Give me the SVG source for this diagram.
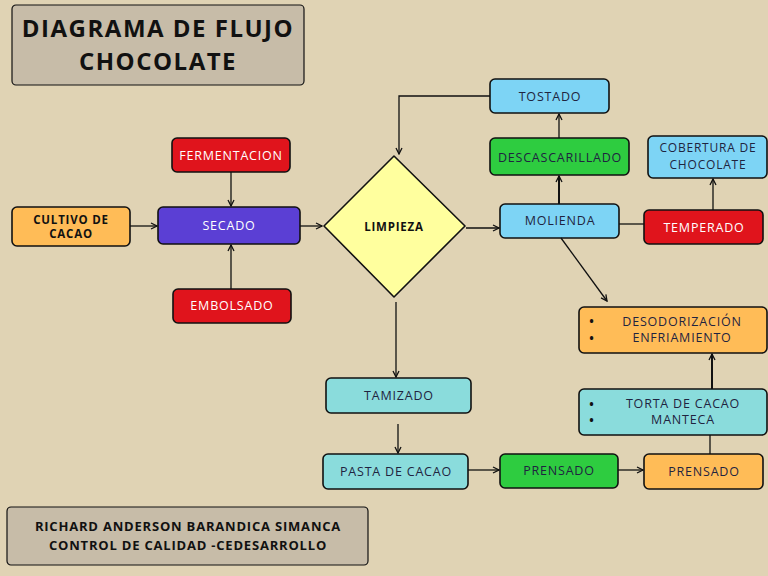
<svg xmlns="http://www.w3.org/2000/svg" width="768" height="576" viewBox="0 0 768 576">
<style>
.b{stroke:#111;stroke-width:1.6}
.t{font-family:"Open Sans","DejaVu Sans",sans-serif;font-size:12.5px;letter-spacing:0.8px;fill:#1f2440;text-anchor:middle;dominant-baseline:central}
.w{fill:#fff}
.k{font-weight:bold;fill:#111}
.d{font-size:12px;font-weight:bold;fill:#111}
.c{stroke:#111;stroke-width:1.3;fill:none;marker-end:url(#a)}
.n{stroke:#111;stroke-width:1.3;fill:none}
</style>
<defs><marker id="a" markerWidth="8" markerHeight="8" refX="7" refY="4" orient="auto" markerUnits="userSpaceOnUse"><path d="M1,1 L7,4 L1,7" fill="none" stroke="#111" stroke-width="1.3"/></marker></defs>
<rect width="768" height="576" fill="#e0d3b4"/>
<g id="title"><rect x="12" y="5" width="292" height="80" rx="4" fill="#c7bca8" stroke="#111" stroke-width="1.2"/>
<text class="t k" x="158" y="27" style="font-size:24px;letter-spacing:1.5px">DIAGRAMA DE FLUJO</text>
<text class="t k" x="158" y="60" style="font-size:24px;letter-spacing:1.5px">CHOCOLATE</text></g>
<g id="cultivo"><rect class="b" x="12" y="207" width="118" height="39" rx="5" fill="#ffbc57"/><text class="t k" x="71" y="219" style="font-size:11.5px">CULTIVO DE</text><text class="t k" x="71" y="233" style="font-size:11.5px">CACAO</text></g>
<g id="secado"><rect class="b" x="158" y="207" width="142" height="37" rx="5" fill="#5b3fd4"/><text class="t w" x="229" y="225">SECADO</text></g>
<g id="fermentacion"><rect class="b" x="172" y="138" width="118" height="34" rx="5" fill="#e0141c"/><text class="t w" x="231" y="155">FERMENTACION</text></g>
<g id="embolsado"><rect class="b" x="173" y="289" width="118" height="34" rx="5" fill="#e0141c"/><text class="t w" x="232" y="305">EMBOLSADO</text></g>
<g id="limpieza"><path d="M394,156 L465,226 L394,297 L324,226 Z" fill="#ffff9e" stroke="#111" stroke-width="1.6" stroke-linejoin="round"/><text class="t k" x="394" y="226" style="font-size:11.5px">LIMPIEZA</text></g>
<g id="tostado"><rect class="b" x="490" y="79" width="119" height="34" rx="5" fill="#7dd4f5"/><text class="t" x="550" y="96">TOSTADO</text></g>
<g id="descascarillado"><rect class="b" x="490" y="138" width="139" height="37" rx="5" fill="#2ecc40"/><text class="t" x="560" y="157">DESCASCARILLADO</text></g>
<g id="molienda"><rect class="b" x="500" y="204" width="119" height="34" rx="5" fill="#7dd4f5"/><text class="t" x="560" y="220">MOLIENDA</text></g>
<g id="cobertura"><rect class="b" x="648" y="136" width="119" height="42" rx="5" fill="#7dd4f5"/><text class="t" x="708" y="147" style="font-size:12px">COBERTURA DE</text><text class="t" x="708" y="164" style="font-size:12px">CHOCOLATE</text></g>
<g id="temperado"><rect class="b" x="644" y="210" width="119" height="34" rx="5" fill="#e0141c"/><text class="t w" x="704" y="227">TEMPERADO</text></g>
<g id="desodorizacion"><rect class="b" x="579" y="307" width="188" height="46" rx="5" fill="#ffbc57"/><text class="t d" x="592" y="321">•</text><text class="t d" x="592" y="338">•</text><text class="t" x="682" y="321">DESODORIZACIÓN</text><text class="t" x="682" y="337">ENFRIAMIENTO</text></g>
<g id="torta"><rect class="b" x="579" y="389" width="188" height="46" rx="5" fill="#8adcdc"/><text class="t d" x="592" y="404">•</text><text class="t d" x="592" y="420">•</text><text class="t" x="683" y="403">TORTA DE CACAO</text><text class="t" x="683" y="419">MANTECA</text></g>
<g id="tamizado"><rect class="b" x="326" y="378" width="145" height="35" rx="5" fill="#8adcdc"/><text class="t" x="399" y="395">TAMIZADO</text></g>
<g id="pasta"><rect class="b" x="323" y="454" width="145" height="35" rx="5" fill="#8adcdc"/><text class="t" x="396" y="471">PASTA DE CACAO</text></g>
<g id="prensado1"><rect class="b" x="500" y="454" width="118" height="34" rx="5" fill="#2ecc40"/><text class="t" x="559" y="470">PRENSADO</text></g>
<g id="prensado2"><rect class="b" x="644" y="454" width="119" height="35" rx="5" fill="#ffbc57"/><text class="t" x="704" y="471">PRENSADO</text></g>
<g id="author"><rect x="7" y="507" width="361" height="58" rx="4" fill="#c7bca8" stroke="#111" stroke-width="1.2"/><text class="t k" x="188" y="526" style="font-size:13px">RICHARD ANDERSON BARANDICA SIMANCA</text><text class="t k" x="188" y="545" style="font-size:13px">CONTROL DE CALIDAD -CEDESARROLLO</text></g>
<g id="connectors">
<path class="c" d="M130,226 H157"/>
<path class="c" d="M231,172 V206"/>
<path class="c" d="M231,289 V245"/>
<path class="c" d="M300,226 H322"/>
<path class="c" d="M490,96 H399 V154"/>
<path class="c" d="M466,228 H499"/>
<path class="c" d="M559,204 V176" style="stroke-width:2"/>
<path class="c" d="M559,138 V114"/>
<path class="n" d="M619,224 H644"/>
<path class="c" d="M713,210 V179"/>
<path class="c" d="M561,238 L607,301"/>
<path class="c" d="M396,302 V377"/>
<path class="c" d="M398,424 V453"/>
<path class="c" d="M468,470 H499"/>
<path class="c" d="M618,470 H643"/>
<path class="n" d="M710,454 V435"/>
<path class="c" d="M712,389 V354" style="stroke-width:2"/>
</g>
</svg>
